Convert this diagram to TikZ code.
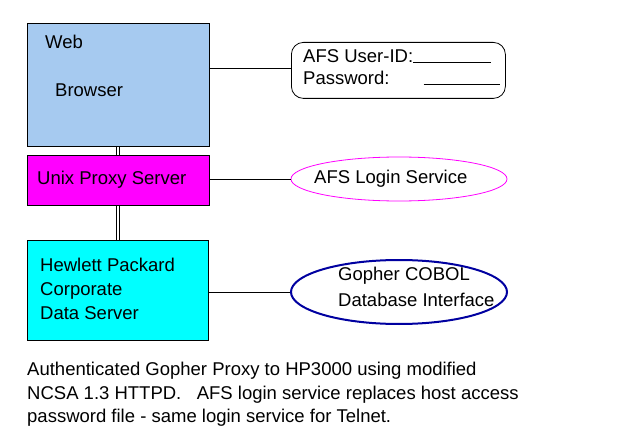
\documentclass[tikz,border=0pt]{standalone}
\usepackage{fontspec}
\setmainfont{Liberation Sans}
\usetikzlibrary{positioning,shapes.geometric}
\definecolor{webblue}{RGB}{166,202,240}
\definecolor{pmag}{RGB}{255,0,255}
\definecolor{pcyan}{RGB}{0,255,255}
\definecolor{dblue}{RGB}{0,0,160}
\begin{document}
\begin{tikzpicture}[
    x=1pt, y=-1pt,
    font=\fontsize{18.5}{22}\selectfont,
    box/.style={draw=black, thick},
    txt/.style={anchor=west, inner sep=0pt},
    lnk/.style={black, thick},
    dbl/.style={black, thick, double distance=2.5pt}
  ]
  \useasboundingbox (0,0) rectangle (640,441);

  % left column
  \node (web)   [box, fill=webblue, minimum width=182, minimum height=123, anchor=north west] at (27,23) {};
  \node (proxy) [box, fill=pmag, minimum width=182, minimum height=50, anchor=north west] at (27,155) {};
  \node (hp)    [box, fill=pcyan, minimum width=181, minimum height=100, anchor=north west] at (27,240) {};

  \node (webt)  [txt] at (45,42)  {Web};
  \node (brt)   [txt] at (55,90)  {Browser};
  \node (prt)   [txt] at (37,180) {Unix Proxy Server};
  \node (hpt)   [txt, align=left, font=\fontsize{18.5}{24}\selectfont] at (40,289) {Hewlett Packard\\Corporate\\Data Server};

  % right column
  \node (login) [draw=black, thick, rounded corners=12pt, fill=white, minimum width=214, minimum height=56, anchor=north west] at (291,42) {};
  \node (idt)   [txt] at (303,56) {AFS User-ID:\rule{78pt}{0.6pt}};
  \node (pwt)   [txt] at (303,78) {Password:\hspace{34pt}\rule{76pt}{0.6pt}};

  \node (afs)   [draw=pmag, thick, ellipse, minimum width=216, minimum height=44] at (399,179) {};
  \node (afst)  [txt] at (314,179) {AFS Login Service};

  \node (goph)  [draw=dblue, line width=2pt, ellipse, minimum width=216, minimum height=64] at (399,292) {};
  \node (gopht) [txt, align=left, font=\fontsize{18.5}{26}\selectfont] at (338,287) {Gopher COBOL\\Database Interface};

  % connectors
  \draw[dbl] (web.south -| 118,0) -- (proxy.north -| 118,0);
  \draw[dbl] (proxy.south -| 118,0) -- (hp.north -| 118,0);
  \draw[lnk] (web.east |- 0,68) -- (login.west |- 0,68);
  \draw[lnk] (proxy.east |- 0,179) -- (afs.west);
  \draw[lnk] (hp.east |- 0,292) -- (goph.west);

  % caption
  \node (cap) [txt, align=left, anchor=north west, font=\fontsize{18.5}{23.5}\selectfont] at (27,362)
    {Authenticated Gopher Proxy to HP3000 using modified\\
     NCSA 1.3 HTTPD.~~ AFS login service replaces host access\\
     password file - same login service for Telnet.};
\end{tikzpicture}
\end{document}
